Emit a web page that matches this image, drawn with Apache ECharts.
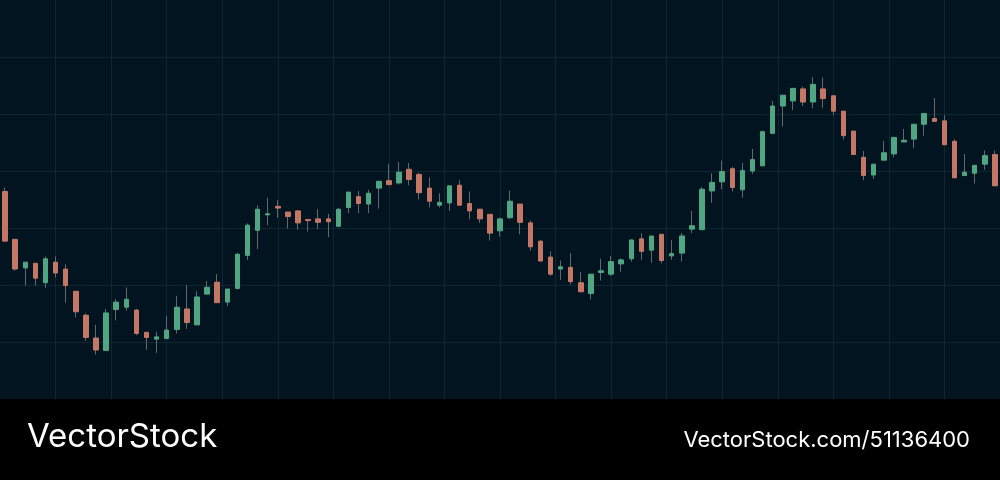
<!DOCTYPE html>
<html>
<head>
<meta charset="utf-8">
<script src="https://cdn.jsdelivr.net/npm/echarts@6/dist/echarts.min.js"></script>
<style>
html,body{margin:0;padding:0;background:#000;}
#chart{width:1000px;height:480px;}
</style>
</head>
<body>
<div id="chart"></div>
<script>
// Candle values (price units), one entry per session
const opens  = [36.4,28.0,23.0,23.8,20.4,24.0,22.8,18.9,14.7,10.7,8.5,15.7,16.1,15.6,11.7,10.5,10.6,12.2,15.8,13.0,
                18.4,20.5,17.0,19.4,25.2,29.6,32.3,33.8,32.8,33.0,31.5,31.6,31.6,30.3,33.6,35.5,34.2,37.0,38.3,37.9,
                40.3,39.4,37.0,34.0,34.4,37.5,34.3,33.3,32.4,29.5,31.8,34.2,30.9,27.7,24.9,22.8,23.1,20.4,18.5,22.2,
                21.9,23.7,24.6,28.1,26.1,28.9,25.1,25.6,29.8,29.7,36.5,38.1,40.4,36.7,40.0,40.9,46.6,51.4,52.3,54.4,
                52.1,54.4,53.2,50.5,47.0,42.4,39.3,41.9,43.0,45.1,45.6,48.2,49.2,48.8,45.2,39.2,39.6,41.2,42.9];
const closes = [27.7,22.8,24.0,21.2,24.6,22.1,19.9,15.3,10.8,8.6,15.1,17.0,17.5,11.5,10.8,10.9,12.1,16.1,13.4,17.9,
                19.6,16.9,19.3,25.4,30.5,33.3,32.5,33.5,32.0,30.9,31.3,31.0,31.1,33.3,36.3,34.3,36.1,38.2,37.6,39.8,
                38.5,36.2,34.7,34.5,37.4,34.0,33.0,31.6,29.1,31.6,34.7,31.0,26.7,24.2,21.9,23.2,20.6,18.8,21.9,22.5,
                24.1,24.4,27.9,25.9,28.6,24.3,25.5,28.6,30.4,36.8,38.0,39.9,37.1,40.1,42.0,46.9,51.4,53.3,54.5,52.1,
                55.2,52.7,50.5,46.2,42.9,39.2,41.2,43.2,45.9,45.4,48.2,50.1,48.7,44.6,38.8,39.8,41.0,42.7,37.4];
const lows   = [27.6,22.5,19.9,19.9,19.5,21.3,16.9,14.3,10.2,7.8,8.5,13.8,15.5,11.2,8.6,8.1,10.6,11.5,12.3,13.0,
                18.4,16.9,16.3,19.2,24.4,26.3,30.5,31.8,29.9,29.7,29.4,29.8,28.4,30.3,32.6,32.6,32.6,33.4,37.6,37.6,
                37.5,35.0,33.6,33.6,33.0,34.0,31.5,30.9,27.8,28.5,31.6,28.9,26.0,24.2,21.6,20.9,20.1,18.8,17.5,20.8,
                21.6,22.3,24.1,24.4,23.9,23.8,24.4,24.1,29.1,29.7,34.4,36.8,36.4,35.3,39.5,40.9,46.6,47.8,50.7,51.4,
                51.0,51.1,49.8,45.5,42.9,38.4,38.6,41.9,42.4,45.1,44.0,46.2,48.7,44.6,38.8,39.2,37.8,40.2,37.4];
const highs  = [37.1,28.1,24.0,23.9,25.0,25.0,23.6,18.9,15.0,13.0,15.8,17.5,19.6,15.8,11.7,11.8,14.6,18.1,20.0,18.9,
                20.7,21.9,19.3,25.6,30.8,34.0,35.3,34.9,32.8,33.0,31.5,33.3,32.5,33.5,36.3,36.5,36.7,38.2,41.2,41.6,
                41.4,39.7,38.9,36.1,37.4,38.4,36.4,33.3,32.4,31.8,36.6,34.2,31.3,27.8,25.9,24.3,25.6,22.3,21.9,24.6,
                25.1,24.7,28.0,29.1,28.6,28.9,27.9,29.1,33.0,37.2,39.6,41.8,40.7,41.4,43.9,47.1,52.3,53.3,54.5,54.8,
                56.5,56.4,53.2,50.5,47.0,43.5,41.2,45.3,45.9,47.4,48.2,50.1,52.8,49.8,45.6,43.0,41.0,43.6,43.6];
const categories = opens.map((_, i) => 'D' + (i + 1));

const BG = '#02141f';
const GRIDLINE = '#0e2733';
const UP = '#4fa683';
const DOWN = '#c57765';
const WICK = '#62686b';

const wickData = opens.map((o, i) => [o, closes[i], lows[i], highs[i]]);
const bodyData = opens.map((o, i) => [o, closes[i], Math.min(o, closes[i]), Math.max(o, closes[i])]);

const chart = echarts.init(document.getElementById('chart'), null, {renderer: 'canvas'});
chart.setOption({
  backgroundColor: '#000000',
  animation: false,
  grid: {left: 0, right: 0, top: 0, bottom: 81, show: true, backgroundColor: BG, borderWidth: 0},
  xAxis: [
    {type: 'category', data: categories, boundaryGap: true,
     axisLine: {show: false}, axisTick: {show: false}, axisLabel: {show: false}, splitLine: {show: false}},
    {type: 'value', min: 0, max: 18, interval: 1, position: 'top',
     axisLine: {show: false}, axisTick: {show: false}, axisLabel: {show: false},
     splitLine: {show: true, showMinLine: false, showMaxLine: false, lineStyle: {color: GRIDLINE, width: 1}}}
  ],
  yAxis: {type: 'value', min: 0, max: 70, interval: 10,
    axisLine: {show: false}, axisTick: {show: false}, axisLabel: {show: false},
    splitLine: {show: true, showMinLine: false, showMaxLine: false, lineStyle: {color: GRIDLINE, width: 1}}},
  series: [
    {type: 'candlestick', xAxisIndex: 0, data: wickData, barWidth: 1,
     itemStyle: {color: WICK, color0: WICK, borderColor: WICK, borderColor0: WICK, borderWidth: 1}},
    {type: 'candlestick', xAxisIndex: 0, data: bodyData, barWidth: 5,
     itemStyle: {color: UP, color0: DOWN, borderColor: UP, borderColor0: DOWN, borderWidth: 1}}
  ],
  graphic: [
    {type: 'text', left: 27, top: 421,
     style: {text: 'VectorStock', fill: '#ffffff', font: '33px Inter'}},
    {type: 'text', right: 30, top: 429,
     style: {text: 'VectorStock.com/51136400', fill: '#ffffff', font: '22px Inter'}}
  ]
});
</script>
</body>
</html>
